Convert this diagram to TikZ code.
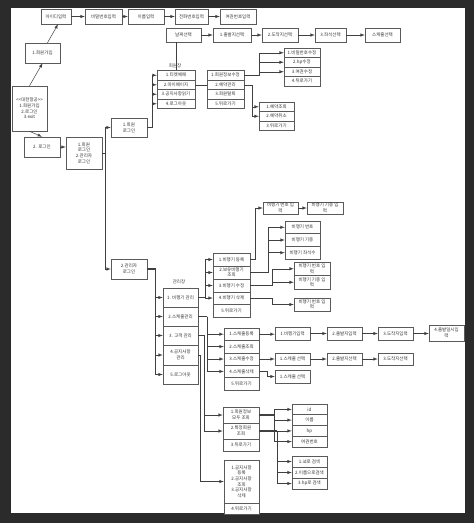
\documentclass[tikz,border=0pt]{standalone}
\usepackage{fontspec}
\newfontfamily\kor{Noto Sans CJK KR}
\definecolor{rahmen}{HTML}{5A5A5A}
\definecolor{linie}{HTML}{404040}
\definecolor{hinter}{HTML}{2B2B2B}
\tikzset{
  kasten/.style={draw=rahmen, fill=white, inner sep=0pt, align=center, text=black!80,
    font=\kor\fontsize{4.5}{5.6}\selectfont, line width=0.5pt},
  titel/.style={inner sep=0pt, text=black!75, font=\kor\fontsize{4.5}{5.6}\selectfont},
  pfeil/.style={->, draw=linie, line width=0.5pt},
  strich/.style={draw=linie, line width=0.5pt},
  dick/.style={draw=linie, line width=1.1pt},
}
\begin{document}
\begin{tikzpicture}[x=1pt, y=-1pt, >=latex]
            % Hintergrund
            \fill[hinter] (0,0) rectangle (474,523);
            \fill[white] (11,8) rectangle (465,513);

            % Start
            \node[kasten, minimum width=35pt, minimum height=45pt] (main) at (29.5,108.5) {<{}<대한항공>{}>\\1.회원가입\\2.로그인\\3.exit};
            \node[kasten, minimum width=35pt, minimum height=20pt] (join) at (42.5,53) {1.회원가입};
            \node[kasten, minimum width=36pt, minimum height=20pt] (login) at (42,147) {2. 로그인};
            \node[kasten, minimum width=36pt, minimum height=32pt] (choose) at (84,153) {1.회원\\로그인\\2.관리자\\로그인};
            \node[kasten, minimum width=36pt, minimum height=19pt] (mlogin) at (129,127.5) {1.회원\\로그인};
            \node[kasten, minimum width=36pt, minimum height=20pt] (alogin) at (129,269) {2.관리자\\로그인};

            % Registrierung
            \node[kasten, minimum width=30pt, minimum height=15pt] (id) at (56,16.5) {아이디입력};
            \node[kasten, minimum width=37pt, minimum height=15pt] (pw) at (103.5,16.5) {비밀번호입력};
            \node[kasten, minimum width=36pt, minimum height=15pt] (name) at (146,16.5) {이름입력};
            \node[kasten, minimum width=33pt, minimum height=15pt] (tel) at (191.5,16.5) {전화번호입력};
            \node[kasten, minimum width=36pt, minimum height=15pt] (pass) at (238,16.5) {여권번호입력};

            % Ticket
            \node[kasten, minimum width=35pt, minimum height=14pt] (date) at (183.5,35) {날짜선택};
            \node[kasten, minimum width=38pt, minimum height=14pt] (dep) at (232,35) {1.출발지선택};
            \node[kasten, minimum width=36pt, minimum height=14pt] (arr) at (280,35) {2.도착지선택};
            \node[kasten, minimum width=31pt, minimum height=14pt] (seat) at (330.5,35) {3.좌석선택};
            \node[kasten, minimum width=35pt, minimum height=14pt] (sched) at (382.5,35) {스케줄선택};

            % Mitglied
            \node[titel] (lblm) at (175,66) {회원창};
            \node[kasten, minimum width=38pt, minimum height=9.5pt] (m1) at (176,75.25) {1.티켓예매};
            \node[kasten, minimum width=38pt, minimum height=9.5pt] (m2) at (176,84.75) {2.마이페이지};
            \node[kasten, minimum width=38pt, minimum height=9.5pt] (m3) at (176,94.25) {3.공지사항읽기};
            \node[kasten, minimum width=38pt, minimum height=9.5pt] (m4) at (176,103.75) {4.로그아웃};

            \node[kasten, minimum width=37pt, minimum height=9.5pt] (p1) at (225.5,75.25) {1.회원정보수정};
            \node[kasten, minimum width=37pt, minimum height=9.5pt] (p2) at (225.5,84.75) {2.예약관리};
            \node[kasten, minimum width=37pt, minimum height=9.5pt] (p3) at (225.5,94.25) {3.회원탈퇴};
            \node[kasten, minimum width=37pt, minimum height=9.5pt] (p4) at (225.5,103.75) {5.뒤로가기};

            \node[kasten, minimum width=36pt, minimum height=9.5pt] (w1) at (302,52.75) {1.비밀번호수정};
            \node[kasten, minimum width=36pt, minimum height=9.5pt] (w2) at (302,62.25) {2.hp수정};
            \node[kasten, minimum width=36pt, minimum height=9.5pt] (w3) at (302,71.75) {3.여권수정};
            \node[kasten, minimum width=36pt, minimum height=9.5pt] (w4) at (302,81.25) {4.뒤로가기};

            \node[kasten, minimum width=35pt, minimum height=9.5pt] (b1) at (276.5,106.75) {1.예약조회};
            \node[kasten, minimum width=35pt, minimum height=9.5pt] (b2) at (276.5,116.25) {2.예약취소};
            \node[kasten, minimum width=35pt, minimum height=9.5pt] (b3) at (276.5,125.75) {3.뒤로가기};

            % Verwaltung
            \node[titel] (lbla) at (179,282) {관리창};
            \node[kasten, minimum width=35pt, minimum height=19pt] (a1) at (180.5,297.5) {1. 비행기 관리};
            \node[kasten, minimum width=35pt, minimum height=19pt] (a2) at (180.5,316.5) {2.스케줄관리};
            \node[kasten, minimum width=35pt, minimum height=19pt] (a3) at (180.5,335.5) {3. 고객 관리};
            \node[kasten, minimum width=35pt, minimum height=20pt] (a4) at (180.5,355) {4.공지사항\\관리};
            \node[kasten, minimum width=35pt, minimum height=19pt] (a5) at (180.5,374.5) {5.로그아웃};

            % Flugzeuge
            \node[kasten, minimum width=37pt, minimum height=13pt] (f1) at (231.5,259.5) {1.비행기 등록};
            \node[kasten, minimum width=37pt, minimum height=13pt] (f2) at (231.5,272.5) {2.보유비행기\\조회};
            \node[kasten, minimum width=37pt, minimum height=13pt] (f3) at (231.5,285.5) {3.비행기 수정};
            \node[kasten, minimum width=37pt, minimum height=12pt] (f4) at (231.5,298) {4.비행기 삭제};
            \node[kasten, minimum width=37pt, minimum height=13pt] (f5) at (231.5,310.5) {5.뒤로가기};

            \node[kasten, minimum width=35pt, minimum height=12pt] (fa) at (280.5,208) {비행기 번호 입\\력};
            \node[kasten, minimum width=36pt, minimum height=12pt] (fb) at (325,208) {비행기 기종 입\\력};

            \node[kasten, minimum width=35pt, minimum height=12.7pt] (i1) at (302.5,227.3) {비행기 번호};
            \node[kasten, minimum width=35pt, minimum height=12.7pt] (i2) at (302.5,240) {비행기 기종};
            \node[kasten, minimum width=35pt, minimum height=12.7pt] (i3) at (302.5,252.7) {비행기 좌석수};

            \node[kasten, minimum width=36pt, minimum height=13.5pt] (u1) at (312,268.75) {비행기 번호 입\\력};
            \node[kasten, minimum width=36pt, minimum height=13.5pt] (u2) at (312,282.25) {비행기 기종 입\\력};
            \node[kasten, minimum width=36pt, minimum height=13pt] (x1) at (312,304.5) {비행기 번호 입\\력};

            % Flugplan
            \node[kasten, minimum width=35pt, minimum height=12.4pt] (s1) at (241.5,334.2) {1.스케줄등록};
            \node[kasten, minimum width=35pt, minimum height=12.4pt] (s2) at (241.5,346.6) {2.스케줄조회};
            \node[kasten, minimum width=35pt, minimum height=12.4pt] (s3) at (241.5,359) {3.스케줄수정};
            \node[kasten, minimum width=35pt, minimum height=12.4pt] (s4) at (241.5,371.4) {4.스케줄삭제};
            \node[kasten, minimum width=35pt, minimum height=12.4pt] (s5) at (241.5,383.8) {5.뒤로가기};

            \node[kasten, minimum width=35pt, minimum height=13pt] (t1) at (292.5,333.5) {1.비행기입력};
            \node[kasten, minimum width=35pt, minimum height=13pt] (t2) at (344.5,333.5) {2.출발지입력};
            \node[kasten, minimum width=35pt, minimum height=13pt] (t3) at (395.5,333.5) {3.도착지입력};
            \node[kasten, minimum width=35pt, minimum height=16pt] (t4) at (446.5,333) {4.출발일시입\\력};

            \node[kasten, minimum width=35pt, minimum height=12pt] (r1) at (292.5,359) {1.스케줄 선택};
            \node[kasten, minimum width=35pt, minimum height=12pt] (r2) at (344.5,359) {2.출발지선택};
            \node[kasten, minimum width=35pt, minimum height=12pt] (r3) at (395.5,359) {3.도착지선택};
            \node[kasten, minimum width=35pt, minimum height=13pt] (d1) at (292.5,376.5) {1.스케줄 선택};

            % Kunden
            \node[kasten, minimum width=36pt, minimum height=16pt] (c1) at (241,415) {1.회원정보\\모두 조회};
            \node[kasten, minimum width=36pt, minimum height=16pt] (c2) at (241,431) {2.특정회원\\조회};
            \node[kasten, minimum width=36pt, minimum height=12pt] (c3) at (241,445) {3.뒤로가기};

            \node[kasten, minimum width=35pt, minimum height=10.75pt] (g1) at (309.5,409.4) {id};
            \node[kasten, minimum width=35pt, minimum height=10.75pt] (g2) at (309.5,420.1) {이름};
            \node[kasten, minimum width=35pt, minimum height=10.75pt] (g3) at (309.5,430.9) {hp};
            \node[kasten, minimum width=35pt, minimum height=10.75pt] (g4) at (309.5,441.6) {여권번호};

            \node[kasten, minimum width=35pt, minimum height=11pt] (h1) at (309.5,461.5) {1.id로 검색};
            \node[kasten, minimum width=35pt, minimum height=11pt] (h2) at (309.5,472.5) {2.이름으로검색};
            \node[kasten, minimum width=35pt, minimum height=11pt] (h3) at (309.5,483.5) {3.hp로 검색};

            % Bekanntmachungen
            \node[kasten, minimum width=35pt, minimum height=43pt] (n1) at (241.5,481.5) {1.공지사항\\등록\\2.공지사항\\조회\\3.공지사항\\삭제};
            \node[kasten, minimum width=35pt, minimum height=11pt] (n2) at (241.5,508.5) {4.뒤로가기};

            % Verbindungen Start
            \draw[pfeil] (main.north) -- (join.south);
            \draw[pfeil] ([xshift=5pt]join.north) -- ([xshift=2pt]id.south);
            \draw[pfeil] (main.south) -- (login.north);
            \draw[pfeil] (login.east) -- (login.east -| choose.west);
            \draw[pfeil] (choose.east) -- ++(3,0) |- (mlogin.west);
            \draw[pfeil] (choose.east) -- ++(3,0) |- (alogin.west);

            \draw[pfeil] (id.east) -- (pw.west);
            \draw[pfeil] (pw.east) -- (name.west);
            \draw[pfeil] (name.east) -- (tel.west);
            \draw[pfeil] (tel.east) -- (pass.west);

            \draw[pfeil] (date.east) -- (dep.west);
            \draw[pfeil] (dep.east) -- (arr.west);
            \draw[pfeil] (arr.east) -- (seat.west);
            \draw[pfeil] (seat.east) -- (sched.west);

            % Verbindungen Mitglied
            \draw[dick] (mlogin.east) -- ++(5,0) coordinate (mk) -- (mk |- m1.west);
            \draw[pfeil] (mk) |- (m1.west);
            \draw[pfeil] (mk) |- (m2.west);
            \draw[pfeil] (mk) |- (m3.west);
            \draw[pfeil] (mk) |- (m4.west);
            \draw[strich] (m1.north) -- (m1.north |- date.south);
            \draw[strich] (m2.east) -- (p2.west);

            \draw[dick] (p1.east) -- ++(15,0) coordinate (pk) -- (pk |- w1.west);
            \draw[pfeil] (pk) |- (w1.west);
            \draw[pfeil] (pk) |- (w2.west);
            \draw[pfeil] (pk) |- (w3.west);
            \draw[pfeil] (p2.east) -- ++(8,0) |- (b1.west);
            \draw[pfeil] (p2.east) -- ++(8,0) |- (b2.west);

            % Verbindungen Verwaltung
            \draw[dick] (alogin.east) -- ++(8,0) coordinate (ak) -- (ak |- a1.west);
            \draw[pfeil] (ak) |- (a1.west);
            \draw[pfeil] (ak) |- (a2.west);
            \draw[pfeil] (ak) |- (a3.west);
            \draw[pfeil] (ak) |- (a4.west);
            \draw[pfeil] (ak) |- (a5.west);

            \draw[dick] (a1.east) -- ++(7,0) coordinate (fk) -- (fk |- f1.west);
            \draw[pfeil] (fk) |- (f1.west);
            \draw[pfeil] (fk) |- (f2.west);
            \draw[pfeil] (fk) |- (f3.west);
            \draw[pfeil] (fk) |- (f4.west);

            \draw[pfeil] (f1.east) -- ++(5,0) |- (fa.west);
            \draw[pfeil] (fa.east) -- (fb.west);
            \draw[dick] (f2.east) -- ++(18,0) coordinate (ik) -- (ik |- i1.west);
            \draw[pfeil] (ik) |- (i1.west);
            \draw[pfeil] (ik) |- (i2.west);
            \draw[pfeil] (ik) |- (i3.west);
            \draw[dick] (f3.east) -- ++(22,0) coordinate (uk) -- (uk |- u1.west);
            \draw[pfeil] (uk) |- (u1.west);
            \draw[pfeil] (uk) |- (u2.west);
            \draw[pfeil] (f4.east) -- ++(22,0) |- (x1.west);

            \draw[dick] (a2.east) -- ++(9,0) coordinate (sk);
            \draw[pfeil] (sk) |- (s1.west);
            \draw[pfeil] (sk) |- (s2.west);
            \draw[pfeil] (sk) |- (s3.west);
            \draw[pfeil] (sk) |- (s4.west);

            \draw[pfeil] (s1.east) -- (s1.east -| t1.west);
            \draw[pfeil] (t1.east) -- (t2.west);
            \draw[pfeil] (t2.east) -- (t3.west);
            \draw[pfeil] (t3.east) -- (t3.east -| t4.west);
            \draw[pfeil] (s3.east) -- (r1.west);
            \draw[pfeil] (r1.east) -- (r2.west);
            \draw[pfeil] (r2.east) -- (r3.west);
            \draw[pfeil] (s4.east) -- ++(8,0) |- (d1.west);

            \draw[pfeil] (a3.east) -- ++(6,0) |- (c1.west);
            \draw[pfeil] (a3.east) -- ++(6,0) |- (c2.west);
            \draw[pfeil] (a4.east) -- ++(2,0) |- (n1.west);

            \draw[dick] (c1.east) -- ++(15,0) coordinate (gk);
            \draw[pfeil] (gk) |- (g1.west);
            \draw[pfeil] (gk) |- (g2.west);
            \draw[pfeil] (gk) |- (g3.west);
            \draw[pfeil] (gk) |- (g4.west);
            \draw[dick] (c2.east) -- ++(18,0) coordinate (hk);
            \draw[pfeil] (hk) |- (h1.west);
            \draw[pfeil] (hk) |- (h2.west);
            \draw[pfeil] (hk) |- (h3.west);
\end{tikzpicture}
\end{document}
